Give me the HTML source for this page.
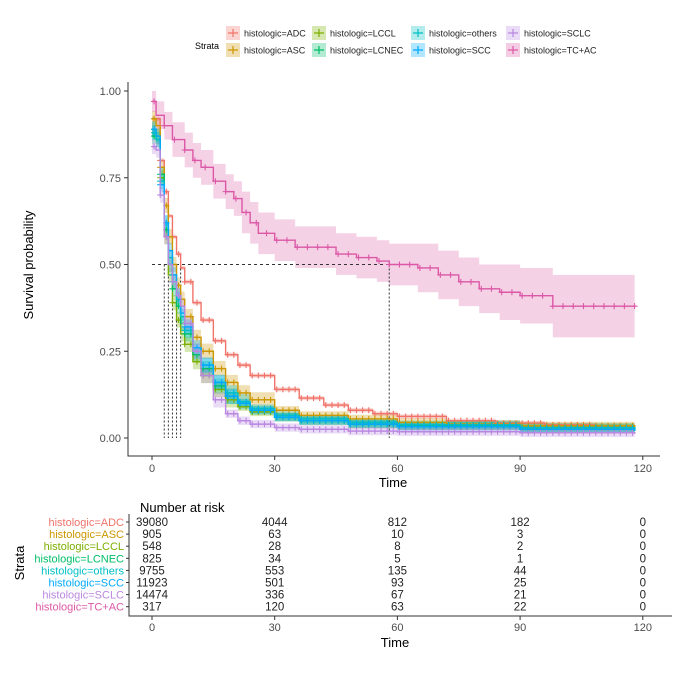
<!DOCTYPE html>
<html><head><meta charset="utf-8"><style>
body{margin:0;background:#fff;}
svg text{font-family:"Liberation Sans",Arial,sans-serif;}
</style></head><body>
<svg id="c" width="685" height="671" xmlns="http://www.w3.org/2000/svg"></svg>
<script>
const strata=["ADC","ASC","LCCL","LCNEC","others","SCC","SCLC","TC+AC"];
const colors=["#F0736A","#CD9600","#7CAE00","#00BE67","#00BFC4","#00A9FF","#B987E0","#DC58A6"];
const tADC=[0,1,2,3,4,5,6,7,8,10,12,15,18,21,24,30,36,42,48,54,60,72,84,96,108,118];
const sADC=[0.92,0.92,0.80,0.71,0.64,0.58,0.53,0.49,0.45,0.39,0.34,0.28,0.24,0.21,0.18,0.14,0.115,0.095,0.08,0.07,0.062,0.05,0.043,0.038,0.035,0.034];
const tASC=[0,1,2,3,4,5,6,7,8,10,12,15,18,21,24,30,36,48,60,72,90,118];
const sASC=[0.92,0.90,0.78,0.67,0.58,0.50,0.44,0.40,0.35,0.29,0.25,0.20,0.16,0.13,0.11,0.08,0.065,0.055,0.045,0.04,0.035,0.03];
const tG=[0,1,2,3,4,5,6,7,8,10,12,15,18,21,24,30,36,48,60,90,118];
const sLCCL=[0.89,0.87,0.75,0.58,0.47,0.39,0.34,0.30,0.27,0.22,0.18,0.14,0.11,0.09,0.075,0.06,0.05,0.04,0.035,0.03,0.02];
const sLCNEC=[0.87,0.86,0.76,0.60,0.50,0.43,0.38,0.33,0.30,0.24,0.20,0.15,0.12,0.10,0.08,0.06,0.05,0.04,0.035,0.025,0.02];
const sOthers=[0.88,0.86,0.74,0.62,0.52,0.45,0.40,0.35,0.31,0.25,0.21,0.16,0.13,0.105,0.085,0.065,0.055,0.045,0.038,0.03,0.025];
const sSCC=[0.89,0.87,0.73,0.62,0.54,0.47,0.41,0.36,0.32,0.26,0.21,0.16,0.12,0.10,0.08,0.06,0.05,0.04,0.033,0.025,0.02];
const sSCLC=[0.84,0.83,0.70,0.58,0.50,0.45,0.41,0.38,0.33,0.25,0.18,0.11,0.07,0.05,0.04,0.03,0.025,0.02,0.018,0.015,0.012];
const tTC=[0,1,3,5,8,10,12,15,18,20,22,24,26,30,35,40,45,50,55,58,65,70,75,80,85,90,95,98,118];
const sTC=[0.97,0.93,0.90,0.86,0.83,0.80,0.78,0.74,0.71,0.69,0.65,0.62,0.59,0.57,0.55,0.55,0.53,0.52,0.51,0.50,0.49,0.47,0.45,0.43,0.42,0.41,0.41,0.38,0.38];
const ciTC=[0.03,0.04,0.04,0.05,0.05,0.05,0.05,0.05,0.05,0.05,0.06,0.06,0.06,0.06,0.06,0.06,0.06,0.06,0.06,0.06,0.07,0.07,0.07,0.07,0.08,0.08,0.08,0.09,0.1];
const medians=[3,4,5,6,7,58];
const riskTimes=[0,30,60,90,120];
const risk=[[39080,4044,812,182,0],[905,63,10,3,0],[548,28,8,2,0],[825,34,5,1,0],[9755,553,135,44,0],[11923,501,93,25,0],[14474,336,67,21,0],[317,120,63,22,0]];
const yTicks=[0,0.25,0.5,0.75,1];
const xTicks=[0,30,60,90,120];

const series=[[tADC,sADC],[tASC,sASC],[tG,sLCCL],[tG,sLCNEC],[tG,sOthers],[tG,sSCC],[tG,sSCLC],[tTC,sTC]];
const X=t=>152+t*4.09, Y=s=>438-s*347;
const svg=document.getElementById('c');
const NS="http://www.w3.org/2000/svg";
function mk(tag,attrs,parent){const e=document.createElementNS(NS,tag);for(const k in attrs)e.setAttribute(k,attrs[k]);(parent||svg).appendChild(e);return e;}
function txt(s,x,y,attrs){const e=mk('text',Object.assign({x:x,y:y},attrs));e.textContent=s;return e;}
function stepPath(ts,ss){let d=`M${X(ts[0])},${Y(ss[0])}`;for(let i=1;i<ts.length;i++){d+=`H${X(ts[i])}V${Y(ss[i])}`;}return d;}
function sAt(ts,ss,t){let v=ss[0];for(let i=0;i<ts.length;i++){if(ts[i]<=t)v=ss[i];}return v;}

series.forEach((sr,i)=>{
  const [ts,ss]=sr;let up=[],lo=[];
  for(let j=0;j<ts.length;j++){
    const w=i===7?ciTC[j]:(i===0?0.006:0.012+(ss[j]>0.1?0.01:0));
    const u=Math.min(1,ss[j]+w),l=Math.max(0,ss[j]-w);
    const tn=j<ts.length-1?ts[j+1]:ts[j];
    up.push([X(ts[j]),Y(u)],[X(tn),Y(u)]);lo.push([X(ts[j]),Y(l)],[X(tn),Y(l)]);
  }
  const pts=up.concat(lo.reverse()).map(p=>p.join(',')).join(' ');
  const b=mk('polygon',{points:pts,fill:colors[i],opacity:i===7?0.28:0.3});
  
  
});
const hl=mk('line',{x1:X(0),x2:X(58),y1:Y(0.5),y2:Y(0.5),stroke:'#333','stroke-dasharray':'3,3','stroke-width':1});

medians.forEach(m=>{const l=mk('line',{x1:X(m),x2:X(m),y1:Y(0.5),y2:Y(0),stroke:'#333','stroke-dasharray':'2,2','stroke-width':1});
});
series.forEach((sr,i)=>{
  const [ts,ss]=sr;
  const p=mk('path',{d:stepPath(ts,ss),fill:'none',stroke:colors[i],'stroke-width':1.4});
  
  
  const step=i===7?2.5:1.5;
  for(let t=0.5;t<=ts[ts.length-1];t+=step){
    const x=X(t),y=Y(sAt(ts,ss,t));
    const c=mk('path',{d:`M${x-3},${y}h6M${x},${y-3}v6`,stroke:colors[i],'stroke-width':1.1});
    
  }
});
const ax=mk('path',{d:'M128,82V456H660',fill:'none',stroke:'#333','stroke-width':1});

yTicks.forEach(v=>{mk('line',{x1:124,x2:128,y1:Y(v),y2:Y(v),stroke:'#333'});
 const t=txt(v.toFixed(2),121,Y(v)+4,{'text-anchor':'end','font-size':11,fill:'#4d4d4d'});
 });
xTicks.forEach(v=>{mk('line',{x1:X(v),x2:X(v),y1:456,y2:460,stroke:'#333'});
 const t=txt(v,X(v),472,{'text-anchor':'middle','font-size':11,fill:'#4d4d4d'});
 });
let t=txt('Time',393,487,{'text-anchor':'middle','font-size':13});

t=txt('Survival probability',0,0,{'text-anchor':'middle','font-size':13,transform:'translate(33,265) rotate(-90)'});

t=txt('Strata',195,49,{'font-size':9});

const lcx=[226,312,411,506];
strata.forEach((s,i)=>{
  const col=Math.floor(i/2),row=i%2;const x=lcx[col],y=26+row*17;
  const g=mk('g',{});
  
  
  mk('rect',{x:x,y:y,width:14,height:14,fill:colors[i],opacity:0.3},g);
  mk('path',{d:`M${x+2},${y+7}h10M${x+7},${y+3}v8`,stroke:colors[i],'stroke-width':1.2},g);
  const tt=mk('text',{x:x+18,y:y+10.5,'font-size':9,fill:'#222'},g);tt.textContent='histologic='+s;
});
t=txt('Number at risk',140,512,{'font-size':13});

t=txt('Strata',0,0,{'text-anchor':'middle','font-size':13,transform:'translate(24,563) rotate(-90)'});

strata.forEach((s,i)=>{
  const y=526+i*12.1;
  const l=txt('histologic='+s,124,y,{'text-anchor':'end','font-size':11,fill:colors[i]});
  
  mk('line',{x1:126,x2:129,y1:y-4,y2:y-4,stroke:'#333'});
  risk[i].forEach((n,j)=>{const c=txt(n,X(riskTimes[j]),y,{'text-anchor':'middle','font-size':11.5,fill:'#222'});
    });
});
const rax=mk('path',{d:'M129,514V616H672',fill:'none',stroke:'#333'});

xTicks.forEach(v=>{mk('line',{x1:X(v),x2:X(v),y1:616,y2:620,stroke:'#333'});
 const tt=txt(v,X(v),631,{'text-anchor':'middle','font-size':11,fill:'#4d4d4d'});
 });
t=txt('Time',395,647,{'text-anchor':'middle','font-size':13});

</script>
</body></html>
